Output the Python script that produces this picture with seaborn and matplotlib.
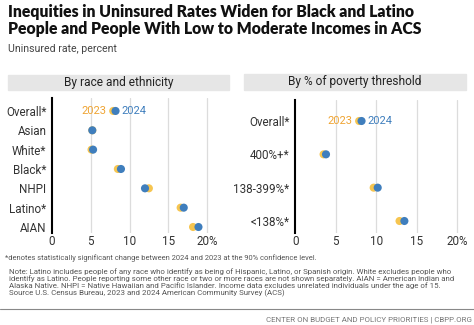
import matplotlib
matplotlib.use("Agg")
import matplotlib.pyplot as plt
import seaborn as sns
import pandas as pd
from matplotlib.patches import Rectangle
from matplotlib.lines import Line2D

# data
race_groups = ["Overall*", "Asian", "White*", "Black*", "NHPI", "Latino*", "AIAN"]
race_2023 = [7.9, 5.2, 5.1, 8.5, 12.5, 16.6, 18.2]
race_2024 = [8.2, 5.2, 5.3, 8.9, 12.0, 17.0, 18.9]

pov_groups = ["Overall*", "400%+*", "138-399%*", "<138%*"]
pov_2023 = [7.9, 3.5, 9.7, 12.9]
pov_2024 = [8.2, 3.8, 10.2, 13.5]

years = ["2023", "2024"]
x_ticks = [0, 5, 10, 15, 20]
x_ticklabels = ["0", "5", "10", "15", "20%"]

YELLOW = "#F6C550"
BLUE = "#3F7EBD"
ORANGE_TXT = "#EFA433"
GRID = "#DCDCDC"
TXT = "#333333"

sns.set_theme(style="white")
plt.rcParams["font.family"] = ["Roboto", "DejaVu Sans"]

W, H = 474, 325
fig = plt.figure(figsize=(W / 100, H / 100), dpi=100)


def frac(x0, y0, x1, y1):
    # pixel box (top-left origin) to figure fraction
    return [x0 / W, 1 - y1 / H, (x1 - x0) / W, (y1 - y0) / H]


def long_df(groups, v23, v24):
    rows = []
    for g, a, b in zip(groups, v23, v24):
        rows.append({"group": g, "year": "2023", "rate": a})
        rows.append({"group": g, "year": "2024", "rate": b})
    return pd.DataFrame(rows)


def panel(ax, groups, v23, v24, ylim):
    df = long_df(groups, v23, v24)
    df["pos"] = df["group"].map({g: i for i, g in enumerate(groups)})
    for xv in x_ticks[1:]:
        ax.axvline(xv, color=GRID, lw=0.9, zorder=0)
    sns.scatterplot(data=df, x="rate", y="pos", hue="year", hue_order=years,
                    palette=[YELLOW, BLUE], s=34, edgecolor="none",
                    legend=False, ax=ax, zorder=3)
    ax.set_xlim(0, 21)
    ax.set_ylim(*ylim)
    ax.set_yticks(range(len(groups)))
    ax.set_yticklabels(groups)
    ax.set_xticks(x_ticks)
    ax.set_xticklabels(x_ticklabels)
    ax.set_xlabel("")
    ax.set_ylabel("")
    for s in ["top", "right", "bottom"]:
        ax.spines[s].set_visible(False)
    ax.spines["left"].set_color("black")
    ax.spines["left"].set_linewidth(1.5)
    ax.tick_params(axis="both", length=0, labelsize=8.4, colors=TXT)
    ax.tick_params(axis="y", pad=4)
    ax.tick_params(axis="x", pad=1.5)
    # inline legend next to the Overall row
    ax.annotate("2023", (v23[0], 0), xytext=(-5, 0), textcoords="offset points",
                ha="right", va="center", color=ORANGE_TXT, fontsize=8)
    ax.annotate("2024", (v24[0], 0), xytext=(4.5, 0), textcoords="offset points",
                ha="left", va="center", color=BLUE, fontsize=8)


ax1 = fig.add_axes(frac(52, 98, 52 + 7.75 * 21, 233))
panel(ax1, race_groups, race_2023, race_2024, (6.31, -0.67))

ax2 = fig.add_axes(frac(295.3, 100, 295.3 + 8.08 * 21, 233))
panel(ax2, pov_groups, pov_2023, pov_2024, (3.36, -0.63))

# panel headers
for (x0, y0, x1, y1), label in [((8, 75, 229, 90), "By race and ethnicity"),
                                ((244, 74, 466, 90), "By % of poverty threshold")]:
    fig.patches.append(Rectangle((x0 / W, 1 - y1 / H), (x1 - x0) / W, (y1 - y0) / H,
                                 transform=fig.transFigure, color="#E6E6E6", zorder=0))
    fig.text((x0 + x1) / 2 / W, 1 - (y0 + y1) / 2 / H, label, ha="center", va="center",
             fontsize=8.6, color="#222222")

# title block
fig.text(8 / W, 1 - 4 / H, "Inequities in Uninsured Rates Widen for Black and Latino\n"
         "People and People With Low to Moderate Incomes in ACS",
         ha="left", va="top", fontsize=11.3, fontweight="heavy", color="#111111",
         family=["Lato", "DejaVu Sans"], linespacing=1.1)
fig.text(8 / W, 1 - 49 / H, "Uninsured rate, percent", ha="left", va="center",
         fontsize=7.6, color="#444444")

# notes
note_color = "#555555"
fig.text(5 / W, 1 - 258 / H,
         "*denotes statistically significant change between 2024 and 2023 at the 90% confidence level.",
         ha="left", va="center", fontsize=5.4, color=note_color)
note_lines = [
    "Note: Latino includes people of any race who identify as being of Hispanic, Latino, or Spanish origin. White excludes people who",
    "identify as Latino. People reporting some other race or two or more races are not shown separately. AIAN = American Indian and",
    "Alaska Native. NHPI = Native Hawaiian and Pacific Islander. Income data excludes unrelated individuals under the age of 15.",
]
for i, line in enumerate(note_lines):
    fig.text(9 / W, 1 - (271.7 + 7.2 * i) / H, line, ha="left", va="center",
             fontsize=5.65, color=note_color)
fig.text(9 / W, 1 - 293.5 / H,
         "Source U.S. Census Bureau, 2023 and 2024 American Community Survey (ACS)",
         ha="left", va="center", fontsize=5.65, color=note_color)
fig.lines.append(Line2D([0, 1], [1 - 309 / H, 1 - 309 / H], transform=fig.transFigure,
                        color="#888888", lw=0.8))
fig.text(472 / W, 1 - 320 / H, "CENTER ON BUDGET AND POLICY PRIORITIES | CBPP.ORG",
         ha="right", va="center", fontsize=5.7, color="#777777")

fig.savefig("out.png", dpi=100)
